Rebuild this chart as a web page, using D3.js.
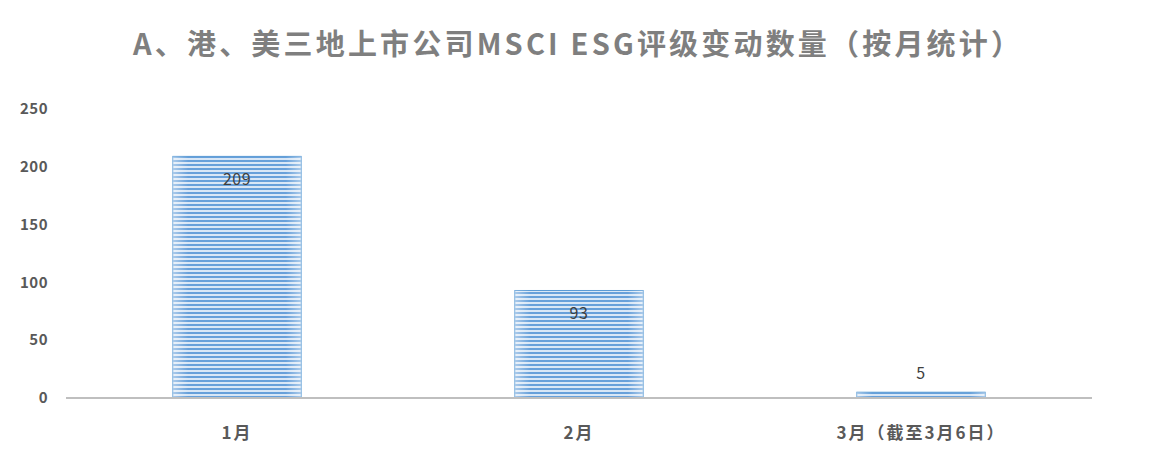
<!DOCTYPE html>
<html>
<head>
<meta charset="utf-8">
<script src="https://cdn.jsdelivr.net/npm/d3@7"></script>
<style>
  body { margin: 0; background: #fff; }
  svg { display: block; }
</style>
</head>
<body>
<svg id="vis" width="1151" height="450"></svg>
<script>
const months = ["1月", "2月", "3月（截至3月6日）"];
const counts = [209, 93, 5];
const yTicks = [0, 50, 100, 150, 200, 250];
const title = "A、港、美三地上市公司MSCI ESG评级变动数量（按月统计）";

const width = 1151, height = 450;
const margin = { top: 109, right: 59, bottom: 52, left: 66 };
const font = "'Noto Sans CJK SC', 'Noto Sans', sans-serif";

const svg = d3.select("#vis");

// striped fill like the original
const defs = svg.append("defs");
const pat = defs.append("pattern")
  .attr("id", "stripes")
  .attr("patternUnits", "userSpaceOnUse")
  .attr("width", 8)
  .attr("height", 4);
pat.append("rect").attr("width", 8).attr("height", 4).attr("fill", "#d9e7f6");
pat.append("rect").attr("width", 8).attr("height", 2).attr("fill", "#67a0da");

// soft light on the bar edges
const shine = defs.append("linearGradient")
  .attr("id", "shine")
  .attr("x1", 0).attr("x2", 1).attr("y1", 0).attr("y2", 0);
shine.append("stop").attr("offset", 0).attr("stop-color", "#fff").attr("stop-opacity", 0.45);
shine.append("stop").attr("offset", 0.12).attr("stop-color", "#fff").attr("stop-opacity", 0);
shine.append("stop").attr("offset", 0.88).attr("stop-color", "#fff").attr("stop-opacity", 0);
shine.append("stop").attr("offset", 1).attr("stop-color", "#fff").attr("stop-opacity", 0.45);

const x = d3.scaleBand()
  .domain(months)
  .range([margin.left, width - margin.right])
  .paddingInner(0.625)
  .paddingOuter(0.3125);

const y = d3.scaleLinear()
  .domain([0, 250])
  .range([height - margin.bottom, margin.top]);

// title
svg.append("text")
  .attr("x", 133)
  .attr("y", 55)
  .attr("font-family", font)
  .attr("font-size", 29)
  .attr("font-weight", "bold")
  .attr("fill", "#7f7f7f")
  .attr("textLength", 887)
  .attr("lengthAdjust", "spacing")
  .text(title);

// y axis labels
svg.append("g")
  .selectAll("text")
  .data(yTicks)
  .join("text")
  .attr("x", 48)
  .attr("y", (d) => y(d))
  .attr("dy", "0.35em")
  .attr("text-anchor", "end")
  .attr("font-family", font)
  .attr("font-size", 15)
  .attr("font-weight", "bold")
  .attr("letter-spacing", 0.5)
  .attr("fill", "#595959")
  .text((d) => d);

// bars
const bars = svg.append("g")
  .selectAll("g")
  .data(counts)
  .join("g");

bars.append("rect")
  .attr("x", (d, i) => x(months[i]))
  .attr("y", (d) => y(d))
  .attr("width", x.bandwidth())
  .attr("height", (d) => y(0) - y(d))
  .attr("fill", "url(#stripes)")
  .attr("stroke", "#5b9bd5")
  .attr("stroke-width", 1);

bars.append("rect")
  .attr("x", (d, i) => x(months[i]))
  .attr("y", (d) => y(d))
  .attr("width", x.bandwidth())
  .attr("height", (d) => y(0) - y(d))
  .attr("fill", "url(#shine)");

// baseline
svg.append("line")
  .attr("x1", margin.left)
  .attr("x2", width - margin.right)
  .attr("y1", y(0))
  .attr("y2", y(0))
  .attr("stroke", "#bfbfbf")
  .attr("stroke-width", 2);

// value labels
svg.append("g")
  .selectAll("text")
  .data(counts)
  .join("text")
  .attr("x", (d, i) => x(months[i]) + x.bandwidth() / 2)
  .attr("y", (d) => (y(0) - y(d) > 30 ? y(d) + 29 : y(d) - 13))
  .attr("text-anchor", "middle")
  .attr("font-family", font)
  .attr("font-size", 16)
  .attr("letter-spacing", 0.5)
  .attr("fill", "#404040")
  .text((d) => d);

// x labels
svg.append("g")
  .selectAll("text")
  .data(months)
  .join("text")
  .attr("x", (d) => x(d) + x.bandwidth() / 2)
  .attr("y", 439)
  .attr("text-anchor", "middle")
  .attr("font-family", font)
  .attr("font-size", 17)
  .attr("font-weight", "bold")
  .attr("letter-spacing", 2)
  .attr("fill", "#595959")
  .text((d) => d);
</script>
</body>
</html>
